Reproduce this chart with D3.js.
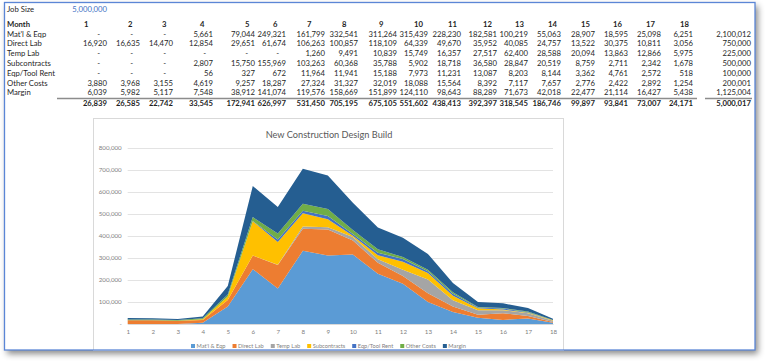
<!DOCTYPE html>
<html><head><meta charset="utf-8">
<script src="https://cdn.jsdelivr.net/npm/d3@7"></script>
<style>
html,body{margin:0;padding:0;background:#fff;}
svg{display:block;}
</style></head>
<body>
<svg id="c" width="768" height="363"></svg>
<script>
// ---------- DATA ----------
const months = [1,2,3,4,5,6,7,8,9,10,11,12,13,14,15,16,17,18];
const seriesNames = ["Mat'l & Eqp","Direct Lab","Temp Lab","Subcontracts","Eqp/Tool Rent","Other Costs","Margin"];
const matl   = [0,0,0,5661,79044,249321,161799,332541,311264,315439,228230,182581,100219,55063,28907,18595,25098,6251];
const dlab   = [16920,16635,14470,12854,29651,61674,106263,100857,118109,64339,49670,35952,40085,24757,13522,30375,10811,3056];
const tlab   = [0,0,0,0,0,0,1260,9491,10839,15749,16357,27517,62400,28588,20094,13863,12866,5975];
const subs   = [0,0,0,2807,15750,155969,103263,60368,35788,5902,18718,36580,28847,20519,8759,2711,2342,1678];
const eqp    = [0,0,0,56,327,672,11964,11941,15188,7973,11231,13087,8203,8144,3362,4761,2572,518];
const other  = [3880,3968,3155,4619,9257,18287,27324,31327,32019,18088,15564,8392,7117,7657,2776,2422,2892,1254];
const margin = [6039,5982,5117,7548,38912,141074,119576,158669,151899,124110,98643,88289,71673,42018,22477,21114,16427,5438];
const monthTotals = [26839,26585,22742,33545,172941,626997,531450,705195,675105,551602,438413,392397,318545,186746,99897,93841,73007,24171];
const rowTotals = [2100012,750000,225000,500000,100000,200001,1125004];
const grandTotal = 5000017;
const jobSize = "5,000,000";
const yTicks = [0,100000,200000,300000,400000,500000,600000,700000,800000];
const chartTitle = "New Construction Design Build";

const seriesValues = [matl,dlab,tlab,subs,eqp,other,margin];
const colors = ["#5B9BD5","#ED7D31","#A5A5A5","#FFC000","#4472C4","#70AD47","#255E91"];

// ---------- LAYOUT ----------
const colRight = [107,140,173,213,255,286,325,358,397,428,461,497,528,561,595,628,661,693];
const headX    = [84,128,162,200,245,273,307,342,379,414,448,483,515,548,581,613,646,680];
const totalRight = 751;

const svg = d3.select("#c");
const defs = svg.append("defs");
const f = defs.append("filter").attr("id","sh").attr("x","-5%").attr("y","-5%").attr("width","110%").attr("height","115%");
f.append("feDropShadow").attr("dx",3).attr("dy",4).attr("stdDeviation",3).attr("flood-color","#000").attr("flood-opacity",0.45);

// outer frame with shadow
svg.append("rect").attr("x",4).attr("y",2).attr("width",751).attr("height",348)
  .attr("fill","#fff").attr("filter","url(#sh)");

const fnt = "Lato, 'Open Sans', sans-serif";
const fmt = d3.format(",");
const tbl = svg.append("g").style("font-family",fnt).style("font-size","7.7px").attr("fill","#1f1f1f");

tbl.append("text").attr("x",7).attr("y",9).attr("dy","0.35em").text("Job Size");
tbl.append("text").attr("x",107).attr("y",9).attr("dy","0.35em").attr("text-anchor","end").attr("fill","#4472C4").text(jobSize);

tbl.append("text").attr("x",7).attr("y",24).attr("dy","0.35em").attr("font-weight","bold").text("Month");
months.forEach((m,i)=>{
  tbl.append("text").attr("x",headX[i]).attr("y",24).attr("dy","0.35em").attr("font-weight","bold").text(m);
});

const rowY = i => 34 + i*9.8;
seriesNames.forEach((name,r)=>{
  tbl.append("text").attr("x",7).attr("y",rowY(r)).attr("dy","0.35em").text(name);
  seriesValues[r].forEach((v,i)=>{
    tbl.append("text").attr("x", v===0 ? colRight[i]-7 : colRight[i]).attr("y",rowY(r)).attr("dy","0.35em")
      .attr("text-anchor","end").text(v===0?"-":fmt(v));
  });
  tbl.append("text").attr("x",totalRight).attr("y",rowY(r)).attr("dy","0.35em").attr("text-anchor","end").text(fmt(rowTotals[r]));
});
tbl.append("line").attr("x1",57).attr("x2",697).attr("y1",98.5).attr("y2",98.5).attr("stroke","#8c8c8c").attr("stroke-width",1.6);
tbl.append("line").attr("x1",705).attr("x2",752).attr("y1",98.5).attr("y2",98.5).attr("stroke","#8c8c8c").attr("stroke-width",1.6);
monthTotals.forEach((v,i)=>{
  tbl.append("text").attr("x",colRight[i]).attr("y",103.5).attr("dy","0.35em").attr("text-anchor","end").attr("font-weight","bold").text(fmt(v));
});
tbl.append("text").attr("x",totalRight).attr("y",103.5).attr("dy","0.35em").attr("text-anchor","end").attr("font-weight","bold").text(fmt(grandTotal));

// ---------- CHART ----------
svg.append("rect").attr("x",93.5).attr("y",118.5).attr("width",470).attr("height",232)
  .attr("fill","#fff").attr("stroke","#d9d9d9");

const x = d3.scalePoint().domain(months).range([127.7,553]);
const y = d3.scaleLinear().domain([0,800000]).range([324,148]);

const gy = svg.append("g").attr("transform","translate(127.7,0)")
  .call(d3.axisLeft(y).tickValues(yTicks).tickSize(-(553-127.7)).tickPadding(6)
    .tickFormat(d=> d===0 ? "-" : fmt(d)));
gy.select(".domain").remove();
gy.selectAll("line").attr("stroke","#e3e3e3").attr("stroke-width",1);
gy.selectAll("text").attr("fill","#7f7f7f").style("font-family",fnt).style("font-size","6.2px");

const table = months.map((m,i)=>{
  const o = {month:m};
  seriesNames.forEach((n,r)=>o[n]=seriesValues[r][i]);
  return o;
});
const stacked = d3.stack().keys(seriesNames)(table);
const area = d3.area().x(d=>x(d.data.month)).y0(d=>y(d[0])).y1(d=>y(d[1]));
svg.append("g").selectAll("path").data(stacked).join("path")
  .attr("d",area).attr("fill",(d,i)=>colors[i]);

const gx = svg.append("g").attr("transform","translate(0,324)")
  .call(d3.axisBottom(x).tickSize(0).tickPadding(6));
gx.select(".domain").attr("stroke","#d9d9d9");
gx.selectAll("text").attr("fill","#7f7f7f").style("font-family",fnt).style("font-size","6.2px");

svg.append("text").attr("x",329).attr("y",135).attr("dy","0.35em").attr("text-anchor","middle")
  .attr("fill","#595959").style("font-family",fnt).style("font-size","9.2px").text(chartTitle);

// legend
const lg = svg.append("g").style("font-family",fnt).style("font-size","5.7px").attr("fill","#7f7f7f");
let lx = 191;
seriesNames.forEach((n,i)=>{
  lg.append("rect").attr("x",lx).attr("y",344).attr("width",4).attr("height",4).attr("fill",colors[i]);
  const t = lg.append("text").attr("x",lx+5.5).attr("y",346).attr("dy","0.35em").text(n);
  lx += 5.5 + t.node().getComputedTextLength() + 7;
});

// outer frame border on top
svg.append("rect").attr("x",4.5).attr("y",2.5).attr("width",750.5).attr("height",347.5)
  .attr("fill","none").attr("stroke","#5b86d6").attr("stroke-width",1.3);
</script>
</body></html>
